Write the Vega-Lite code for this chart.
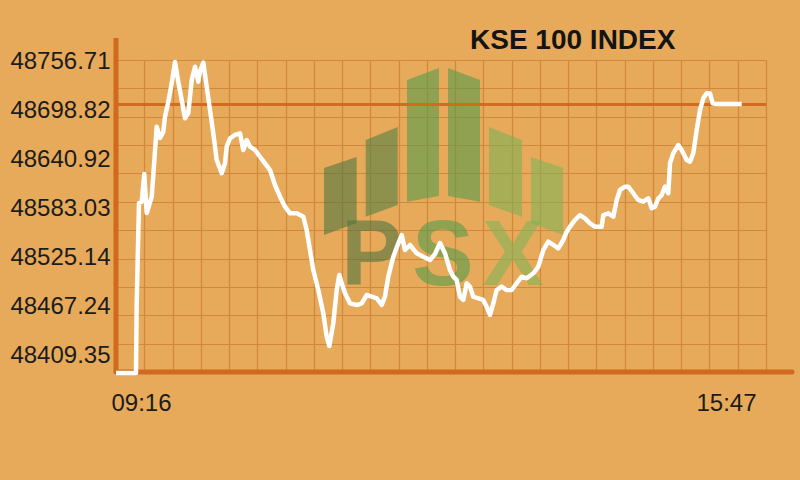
{
  "$schema": "https://vega.github.io/schema/vega-lite/v6.json",
  "width": 650,
  "height": 312,
  "autosize": {"type": "none"},
  "padding": {"left": 116, "top": 60, "right": 34, "bottom": 108},
  "background": "#E6AA5A",
  "config": {"view": {"stroke": null}},
  "title": {
    "text": "KSE 100 INDEX",
    "anchor": "start",
    "frame": "group",
    "dx": 354,
    "offset": -42,
    "baseline": "alphabetic",
    "font": "Liberation Sans",
    "fontSize": 28,
    "fontWeight": "bold",
    "color": "#141414"
  },
  "datasets": {
    "kse": [
      {"time": "2024-01-01T08:59:17", "index": 48388.0},
      {"time": "2024-01-01T09:12:39", "index": 48388.0},
      {"time": "2024-01-01T09:13:07", "index": 48471.0},
      {"time": "2024-01-01T09:14:39", "index": 48589.6},
      {"time": "2024-01-01T09:16:28", "index": 48591.1},
      {"time": "2024-01-01T09:18:12", "index": 48623.9},
      {"time": "2024-01-01T09:19:48", "index": 48577.7},
      {"time": "2024-01-01T09:23:09", "index": 48597.0},
      {"time": "2024-01-01T09:24:13", "index": 48622.7},
      {"time": "2024-01-01T09:26:29", "index": 48680.0},
      {"time": "2024-01-01T09:28:42", "index": 48666.6},
      {"time": "2024-01-01T09:30:54", "index": 48674.1},
      {"time": "2024-01-01T09:32:02", "index": 48691.9},
      {"time": "2024-01-01T09:34:15", "index": 48709.6},
      {"time": "2024-01-01T09:36:31", "index": 48731.5},
      {"time": "2024-01-01T09:38:43", "index": 48756.7},
      {"time": "2024-01-01T09:40:55", "index": 48733.4},
      {"time": "2024-01-01T09:43:12", "index": 48711.7},
      {"time": "2024-01-01T09:45:24", "index": 48690.0},
      {"time": "2024-01-01T09:47:36", "index": 48695.9},
      {"time": "2024-01-01T09:49:53", "index": 48735.4},
      {"time": "2024-01-01T09:52:05", "index": 48751.1},
      {"time": "2024-01-01T09:54:18", "index": 48733.4},
      {"time": "2024-01-01T09:55:25", "index": 48745.2},
      {"time": "2024-01-01T09:57:38", "index": 48756.0},
      {"time": "2024-01-01T09:59:54", "index": 48727.4},
      {"time": "2024-01-01T10:02:07", "index": 48699.8},
      {"time": "2024-01-01T10:04:19", "index": 48672.2},
      {"time": "2024-01-01T10:06:35", "index": 48640.5},
      {"time": "2024-01-01T10:09:56", "index": 48624.8},
      {"time": "2024-01-01T10:12:08", "index": 48636.6},
      {"time": "2024-01-01T10:13:16", "index": 48656.3},
      {"time": "2024-01-01T10:15:29", "index": 48666.3},
      {"time": "2024-01-01T10:18:49", "index": 48670.2},
      {"time": "2024-01-01T10:22:10", "index": 48672.2},
      {"time": "2024-01-01T10:24:22", "index": 48652.4},
      {"time": "2024-01-01T10:26:38", "index": 48664.2},
      {"time": "2024-01-01T10:28:51", "index": 48656.3},
      {"time": "2024-01-01T10:32:11", "index": 48652.4},
      {"time": "2024-01-01T10:35:32", "index": 48644.4},
      {"time": "2024-01-01T10:38:52", "index": 48636.6},
      {"time": "2024-01-01T10:42:13", "index": 48628.7},
      {"time": "2024-01-01T10:45:33", "index": 48610.9},
      {"time": "2024-01-01T10:48:54", "index": 48597.0},
      {"time": "2024-01-01T10:52:15", "index": 48585.2},
      {"time": "2024-01-01T10:55:35", "index": 48577.3},
      {"time": "2024-01-01T11:00:04", "index": 48577.3},
      {"time": "2024-01-01T11:04:28", "index": 48573.3},
      {"time": "2024-01-01T11:06:45", "index": 48557.5},
      {"time": "2024-01-01T11:08:57", "index": 48533.8},
      {"time": "2024-01-01T11:11:09", "index": 48510.1},
      {"time": "2024-01-01T11:14:30", "index": 48486.4},
      {"time": "2024-01-01T11:17:50", "index": 48458.8},
      {"time": "2024-01-01T11:20:07", "index": 48431.0},
      {"time": "2024-01-01T11:21:51", "index": 48420.0},
      {"time": "2024-01-01T11:24:31", "index": 48446.9},
      {"time": "2024-01-01T11:26:48", "index": 48486.4},
      {"time": "2024-01-01T11:28:32", "index": 48504.2},
      {"time": "2024-01-01T11:30:08", "index": 48494.4},
      {"time": "2024-01-01T11:32:21", "index": 48482.5},
      {"time": "2024-01-01T11:35:41", "index": 48470.6},
      {"time": "2024-01-01T11:40:10", "index": 48468.6},
      {"time": "2024-01-01T11:43:30", "index": 48470.6},
      {"time": "2024-01-01T11:46:51", "index": 48480.5},
      {"time": "2024-01-01T11:50:11", "index": 48478.5},
      {"time": "2024-01-01T11:53:32", "index": 48476.6},
      {"time": "2024-01-01T11:56:52", "index": 48468.6},
      {"time": "2024-01-01T11:59:04", "index": 48478.5},
      {"time": "2024-01-01T12:01:17", "index": 48502.2},
      {"time": "2024-01-01T12:04:37", "index": 48525.9},
      {"time": "2024-01-01T12:07:58", "index": 48541.8},
      {"time": "2024-01-01T12:10:14", "index": 48551.6},
      {"time": "2024-01-01T12:12:27", "index": 48533.8},
      {"time": "2024-01-01T12:15:47", "index": 48539.8},
      {"time": "2024-01-01T12:20:16", "index": 48529.9},
      {"time": "2024-01-01T12:24:40", "index": 48525.9},
      {"time": "2024-01-01T12:29:09", "index": 48522.0},
      {"time": "2024-01-01T12:32:30", "index": 48529.1},
      {"time": "2024-01-01T12:35:50", "index": 48542.1},
      {"time": "2024-01-01T12:39:11", "index": 48529.9},
      {"time": "2024-01-01T12:42:31", "index": 48510.1},
      {"time": "2024-01-01T12:44:43", "index": 48502.2},
      {"time": "2024-01-01T12:46:59", "index": 48498.3},
      {"time": "2024-01-01T12:49:12", "index": 48478.5},
      {"time": "2024-01-01T12:51:25", "index": 48474.6},
      {"time": "2024-01-01T12:53:41", "index": 48494.4},
      {"time": "2024-01-01T12:55:54", "index": 48490.3},
      {"time": "2024-01-01T12:58:06", "index": 48478.5},
      {"time": "2024-01-01T13:01:26", "index": 48476.6},
      {"time": "2024-01-01T13:04:46", "index": 48474.6},
      {"time": "2024-01-01T13:07:03", "index": 48466.6},
      {"time": "2024-01-01T13:09:15", "index": 48456.8},
      {"time": "2024-01-01T13:11:28", "index": 48470.6},
      {"time": "2024-01-01T13:13:44", "index": 48486.4},
      {"time": "2024-01-01T13:17:04", "index": 48490.3},
      {"time": "2024-01-01T13:20:25", "index": 48486.4},
      {"time": "2024-01-01T13:23:46", "index": 48486.4},
      {"time": "2024-01-01T13:27:06", "index": 48494.4},
      {"time": "2024-01-01T13:30:27", "index": 48502.2},
      {"time": "2024-01-01T13:33:47", "index": 48500.3},
      {"time": "2024-01-01T13:38:12", "index": 48506.2},
      {"time": "2024-01-01T13:41:33", "index": 48514.0},
      {"time": "2024-01-01T13:44:53", "index": 48533.8},
      {"time": "2024-01-01T13:48:13", "index": 48543.7},
      {"time": "2024-01-01T13:51:34", "index": 48539.8},
      {"time": "2024-01-01T13:54:54", "index": 48535.8},
      {"time": "2024-01-01T13:58:15", "index": 48545.7},
      {"time": "2024-01-01T14:00:31", "index": 48555.5},
      {"time": "2024-01-01T14:02:43", "index": 48561.5},
      {"time": "2024-01-01T14:06:04", "index": 48569.4},
      {"time": "2024-01-01T14:09:25", "index": 48575.3},
      {"time": "2024-01-01T14:12:45", "index": 48571.4},
      {"time": "2024-01-01T14:16:06", "index": 48565.5},
      {"time": "2024-01-01T14:19:26", "index": 48561.5},
      {"time": "2024-01-01T14:23:55", "index": 48561.5},
      {"time": "2024-01-01T14:25:01", "index": 48575.3},
      {"time": "2024-01-01T14:28:19", "index": 48577.3},
      {"time": "2024-01-01T14:31:40", "index": 48573.3},
      {"time": "2024-01-01T14:33:57", "index": 48593.1},
      {"time": "2024-01-01T14:36:09", "index": 48605.0},
      {"time": "2024-01-01T14:39:29", "index": 48608.9},
      {"time": "2024-01-01T14:41:42", "index": 48608.9},
      {"time": "2024-01-01T14:45:02", "index": 48601.1},
      {"time": "2024-01-01T14:48:22", "index": 48593.1},
      {"time": "2024-01-01T14:51:43", "index": 48591.1},
      {"time": "2024-01-01T14:55:04", "index": 48595.1},
      {"time": "2024-01-01T14:57:20", "index": 48583.3},
      {"time": "2024-01-01T14:59:32", "index": 48585.2},
      {"time": "2024-01-01T15:01:45", "index": 48595.1},
      {"time": "2024-01-01T15:04:01", "index": 48599.0},
      {"time": "2024-01-01T15:06:13", "index": 48608.9},
      {"time": "2024-01-01T15:08:26", "index": 48601.1},
      {"time": "2024-01-01T15:09:34", "index": 48636.6},
      {"time": "2024-01-01T15:11:46", "index": 48648.5},
      {"time": "2024-01-01T15:15:07", "index": 48658.3},
      {"time": "2024-01-01T15:17:23", "index": 48652.4},
      {"time": "2024-01-01T15:20:43", "index": 48640.5},
      {"time": "2024-01-01T15:22:56", "index": 48638.5},
      {"time": "2024-01-01T15:25:08", "index": 48648.5},
      {"time": "2024-01-01T15:27:24", "index": 48676.1},
      {"time": "2024-01-01T15:29:37", "index": 48699.8},
      {"time": "2024-01-01T15:31:49", "index": 48713.7},
      {"time": "2024-01-01T15:34:06", "index": 48719.6},
      {"time": "2024-01-01T15:36:18", "index": 48719.6},
      {"time": "2024-01-01T15:38:06", "index": 48707.7},
      {"time": "2024-01-01T15:40:46", "index": 48706.9},
      {"time": "2024-01-01T15:57:29", "index": 48706.9}
    ],
    "logo": [
      {"part": "bar1", "time": "2024-01-01T11:18:18", "top": 48631.0, "bottom": 48551.6},
      {"part": "bar1", "time": "2024-01-01T11:40:10", "top": 48644.1, "bottom": 48565.8},
      {"part": "bar2", "time": "2024-01-01T11:46:11", "top": 48664.2, "bottom": 48573.3},
      {"part": "bar2", "time": "2024-01-01T12:07:34", "top": 48679.7, "bottom": 48587.2},
      {"part": "bar3", "time": "2024-01-01T12:13:47", "top": 48735.4, "bottom": 48591.1},
      {"part": "bar3", "time": "2024-01-01T12:35:10", "top": 48749.6, "bottom": 48597.9},
      {"part": "bar4", "time": "2024-01-01T12:41:11", "top": 48749.6, "bottom": 48597.9},
      {"part": "bar4", "time": "2024-01-01T13:02:34", "top": 48735.4, "bottom": 48591.1},
      {"part": "bar5", "time": "2024-01-01T13:08:35", "top": 48679.7, "bottom": 48587.2},
      {"part": "bar5", "time": "2024-01-01T13:30:38", "top": 48664.2, "bottom": 48573.3},
      {"part": "bar6", "time": "2024-01-01T13:36:40", "top": 48644.1, "bottom": 48565.8},
      {"part": "bar6", "time": "2024-01-01T13:58:03", "top": 48631.0, "bottom": 48551.6}
    ],
    "letters": [
      {"part": "P", "time": "2024-01-01T11:50:23", "value": 48492.3},
      {"part": "S", "time": "2024-01-01T12:37:50", "value": 48492.3},
      {"part": "X", "time": "2024-01-01T13:24:37", "value": 48492.3}
    ]
  },
  "layer": [
    {
      "data": {"name": "logo"},
      "mark": {"type": "area", "opacity": 0.6},
      "encoding": {
        "x": {
          "field": "time",
          "type": "temporal",
          "scale": {
            "domain": [
              {"year": 2024, "month": 1, "date": 1, "hours": 8, "minutes": 59, "seconds": 17},
              {"year": 2024, "month": 1, "date": 1, "hours": 16, "minutes": 13, "seconds": 44}
            ],
            "nice": false
          },
          "axis": {
            "orient": "bottom",
            "grid": true,
            "gridColor": "#d3873a",
            "gridWidth": 1.2,
            "labels": false,
            "ticks": false,
            "domain": false,
            "title": null,
            "values": [
              {"year": 2024, "month": 1, "date": 1, "hours": 8, "minutes": 59, "seconds": 17},
              {"year": 2024, "month": 1, "date": 1, "hours": 9, "minutes": 18, "seconds": 10},
              {"year": 2024, "month": 1, "date": 1, "hours": 9, "minutes": 37, "seconds": 4},
              {"year": 2024, "month": 1, "date": 1, "hours": 9, "minutes": 55, "seconds": 57},
              {"year": 2024, "month": 1, "date": 1, "hours": 10, "minutes": 14, "seconds": 50},
              {"year": 2024, "month": 1, "date": 1, "hours": 10, "minutes": 33, "seconds": 44},
              {"year": 2024, "month": 1, "date": 1, "hours": 10, "minutes": 52, "seconds": 37},
              {"year": 2024, "month": 1, "date": 1, "hours": 11, "minutes": 11, "seconds": 30},
              {"year": 2024, "month": 1, "date": 1, "hours": 11, "minutes": 30, "seconds": 24},
              {"year": 2024, "month": 1, "date": 1, "hours": 11, "minutes": 49, "seconds": 17},
              {"year": 2024, "month": 1, "date": 1, "hours": 12, "minutes": 8, "seconds": 10},
              {"year": 2024, "month": 1, "date": 1, "hours": 12, "minutes": 27, "seconds": 4},
              {"year": 2024, "month": 1, "date": 1, "hours": 12, "minutes": 45, "seconds": 57},
              {"year": 2024, "month": 1, "date": 1, "hours": 13, "minutes": 4, "seconds": 50},
              {"year": 2024, "month": 1, "date": 1, "hours": 13, "minutes": 23, "seconds": 44},
              {"year": 2024, "month": 1, "date": 1, "hours": 13, "minutes": 42, "seconds": 37},
              {"year": 2024, "month": 1, "date": 1, "hours": 14, "minutes": 1, "seconds": 30},
              {"year": 2024, "month": 1, "date": 1, "hours": 14, "minutes": 20, "seconds": 24},
              {"year": 2024, "month": 1, "date": 1, "hours": 14, "minutes": 39, "seconds": 17},
              {"year": 2024, "month": 1, "date": 1, "hours": 14, "minutes": 58, "seconds": 10},
              {"year": 2024, "month": 1, "date": 1, "hours": 15, "minutes": 17, "seconds": 4},
              {"year": 2024, "month": 1, "date": 1, "hours": 15, "minutes": 35, "seconds": 57},
              {"year": 2024, "month": 1, "date": 1, "hours": 15, "minutes": 54, "seconds": 50},
              {"year": 2024, "month": 1, "date": 1, "hours": 16, "minutes": 13, "seconds": 44}
            ]
          }
        },
        "y": {
          "field": "top",
          "type": "quantitative",
          "scale": {"domain": [48389.2, 48759.08], "zero": false, "nice": false},
          "axis": {
            "orient": "left",
            "grid": true,
            "gridColor": "#d3873a",
            "gridWidth": 1.2,
            "labels": false,
            "ticks": false,
            "domain": false,
            "title": null,
            "values": [48389.2, 48422.83, 48456.45, 48490.08, 48523.7, 48557.33, 48590.95, 48624.58, 48658.2, 48691.83, 48725.45, 48759.08]
          }
        },
        "y2": {"field": "bottom"},
        "color": {
          "field": "part",
          "type": "nominal",
          "scale": {
            "domain": ["bar1", "bar2", "bar3", "bar4", "bar5", "bar6", "P", "S", "X"],
            "range": ["#4f7641", "#528043", "#559d4d", "#579b4d", "#7eb152", "#81b457", "#4f7641", "#559d4d", "#81b457"]
          },
          "legend": null
        },
        "detail": {"field": "part"}
      }
    },
    {
      "data": {"name": "letters"},
      "mark": {"type": "text", "opacity": 0.6, "font": "Liberation Sans", "fontWeight": "bold", "fontSize": 92, "baseline": "alphabetic", "align": "center"},
      "encoding": {
        "x": {"field": "time", "type": "temporal", "axis": null},
        "y": {"field": "value", "type": "quantitative", "axis": null},
        "text": {"field": "part"},
        "color": {"field": "part", "type": "nominal", "legend": null}
      }
    },
    {
      "data": {"values": [{}]},
      "mark": {"type": "rule", "color": "#d06b1f", "strokeWidth": 3},
      "encoding": {
        "y": {"datum": 48706.3, "type": "quantitative", "axis": null}
      }
    },
    {
      "data": {"values": [{}]},
      "mark": {"type": "rule", "color": "#cf6a1e", "strokeWidth": 5},
      "encoding": {
        "x": {"datum": {"year": 2024, "month": 1, "date": 1, "hours": 8, "minutes": 59, "seconds": 17}, "type": "temporal", "axis": null},
        "y": {"datum": 48785.2, "type": "quantitative", "axis": null},
        "y2": {"datum": 48389.2}
      }
    },
    {
      "data": {"values": [{}]},
      "mark": {"type": "rule", "color": "#cf6a1e", "strokeWidth": 5, "strokeCap": "round"},
      "encoding": {
        "x": {"datum": {"year": 2024, "month": 1, "date": 1, "hours": 8, "minutes": 59, "seconds": 17}, "type": "temporal", "axis": null},
        "x2": {"datum": {"year": 2024, "month": 1, "date": 1, "hours": 16, "minutes": 31, "seconds": 7}},
        "y": {"datum": 48389.2, "type": "quantitative", "axis": null}
      }
    },
    {
      "data": {"name": "kse"},
      "mark": {"type": "line", "color": "#ffffff", "strokeWidth": 4.5, "strokeJoin": "round"},
      "encoding": {
        "x": {
          "field": "time",
          "type": "temporal",
          "axis": {
            "orient": "bottom",
            "grid": false,
            "domain": false,
            "ticks": false,
            "title": null,
            "values": [
              {"year": 2024, "month": 1, "date": 1, "hours": 9, "minutes": 16},
              {"year": 2024, "month": 1, "date": 1, "hours": 15, "minutes": 47}
            ],
            "format": "%H:%M",
            "labelFont": "Liberation Sans",
            "labelFontSize": 24,
            "labelColor": "#1c1c1c",
            "labelPadding": 19,
            "labelBaseline": "top",
            "labelFlush": false,
            "labelOverlap": false
          }
        },
        "y": {
          "field": "index",
          "type": "quantitative",
          "axis": {
            "orient": "left",
            "grid": false,
            "domain": false,
            "ticks": false,
            "title": null,
            "values": [48409.35, 48467.24, 48525.14, 48583.03, 48640.92, 48698.82, 48756.71],
            "format": ".2f",
            "labelFont": "Liberation Sans",
            "labelFontSize": 24,
            "labelColor": "#1c1c1c",
            "labelPadding": 6,
            "labelFlush": false,
            "labelOverlap": false
          }
        }
      }
    }
  ],
  "resolve": {"axis": {"x": "independent", "y": "independent"}}
}
